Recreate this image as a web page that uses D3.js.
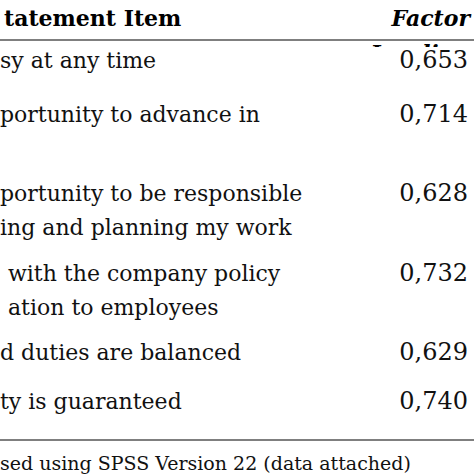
<!DOCTYPE html>
<html><head><meta charset="utf-8">
<script src="https://cdn.jsdelivr.net/npm/d3@7"></script>
<style>body{margin:0;background:#fff}</style></head>
<body><svg id="c" width="474" height="474"></svg>
<script>
const itemLines = [
  ["sy at any time"],
  ["portunity to advance in"],
  ["portunity to be responsible", "ing and planning my work"],
  ["with the company policy", "ation to employees"],
  ["d duties are balanced"],
  ["ty is guaranteed"]
];
const itemX = [0, 0, 0, 8, 0, 0];
const loadings = ["0,653", "0,714", "0,628", "0,732", "0,629", "0,740"];
const rowY = [60, 114, 193, 273, 352, 401];
const footer = "sed using SPSS Version 22 (data attached)";

const svg = d3.select("#c");
const font = "DejaVu Serif, Liberation Serif, serif";
const y = d3.scaleLinear().domain([0, 474]).range([0, 474]);
const lh = 34;

svg.append("defs").append("clipPath").attr("id", "hc").append("rect")
  .attr("x", 0).attr("y", 0).attr("width", 474).attr("height", 47);

svg.append("text").attr("x", 4).attr("y", y(26)).attr("font-family", font)
  .attr("font-size", 22).attr("font-weight", "bold").text("tatement Item");
svg.append("text").attr("x", 470).attr("y", y(26)).attr("text-anchor", "end").attr("font-family", font)
  .attr("font-size", 22).attr("font-weight", "bold").attr("font-style", "italic").text("Factor");
svg.append("text").attr("x", 470).attr("y", y(61)).attr("text-anchor", "end").attr("font-family", font)
  .attr("clip-path", "url(#hc)")
  .attr("font-size", 22).attr("font-weight", "bold").attr("font-style", "italic").text("Loading");
svg.append("line").attr("x1", 0).attr("x2", 474).attr("y1", y(40)).attr("y2", y(40))
  .attr("stroke", "#000").attr("stroke-width", 1.2);

itemLines.forEach((lines, i) => {
  lines.forEach((t, j) => {
    svg.append("text").attr("x", itemX[i]).attr("y", y(rowY[i] + 8 + j * lh))
      .attr("font-family", font).attr("font-size", 22).attr("fill", "#111").text(t);
  });
  svg.append("text").attr("x", 468).attr("y", y(rowY[i] + 8)).attr("text-anchor", "end")
    .attr("font-family", font).attr("font-size", 24).attr("fill", "#111").text(loadings[i]);
});

svg.append("line").attr("x1", 0).attr("x2", 474).attr("y1", y(440)).attr("y2", y(440))
  .attr("stroke", "#000").attr("stroke-width", 1.2);
svg.append("text").attr("x", 0).attr("y", y(470)).attr("font-family", font)
  .attr("font-size", 19).attr("fill", "#111").text(footer);
</script></body></html>
